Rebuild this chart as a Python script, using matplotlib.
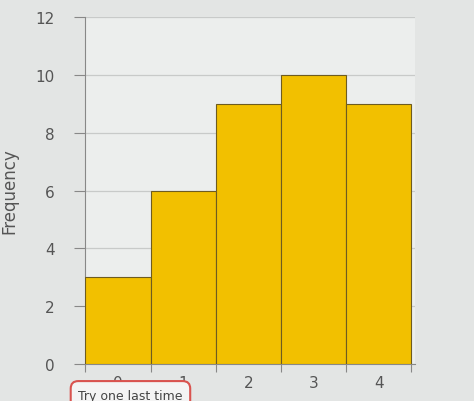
import matplotlib.pyplot as plt
import numpy as np

# histogram data
bins = [0, 1, 2, 3, 4]
counts = [3, 6, 9, 10, 9]
y_ticks = [0, 2, 4, 6, 8, 10, 12]
y_label = "Frequency"
button_text = "Try one last time"

fig = plt.figure(figsize=(4.74, 4.02), dpi=100)
fig.patch.set_facecolor("#e3e5e4")
ax = fig.add_axes([0.18, 0.092, 0.695, 0.863])
ax.set_facecolor("#eceeed")

ax.bar(bins, counts, width=1.0, color="#f2c000", edgecolor="#6e5c20", linewidth=0.8, zorder=3)

ax.set_ylim(0, 12)
ax.set_xlim(-0.5, 4.55)
ax.set_yticks(y_ticks)
ax.yaxis.grid(True, color="#c8cac9", linewidth=0.9, zorder=0)

# ticks at bin edges, labels at bin centres
edges = np.arange(len(bins) + 1) - 0.5
ax.set_xticks(edges)
ax.set_xticklabels([])
ax.set_xticks(bins, minor=True)
ax.set_xticklabels([str(b) for b in bins], minor=True)
ax.tick_params(axis="x", which="major", length=6, color="#888888")
ax.tick_params(axis="x", which="minor", length=0, pad=8, labelsize=11, labelcolor="#555555")
ax.tick_params(axis="y", length=8, color="#888888", labelsize=11, labelcolor="#555555", pad=14)

for s in ["top", "right"]:
    ax.spines[s].set_visible(False)
ax.spines["left"].set_color("#888888")
ax.spines["bottom"].set_color("#888888")

ax.set_ylabel(y_label, fontsize=12, color="#555555", labelpad=12)

fig.text(0.165, 0.006, button_text, fontsize=9, color="#444444",
         bbox=dict(boxstyle="round,pad=0.6,rounding_size=0.6", facecolor="#f4f4f4",
                   edgecolor="#d9534f", linewidth=1.5))

fig.savefig("out.png", dpi=100, facecolor=fig.get_facecolor())
